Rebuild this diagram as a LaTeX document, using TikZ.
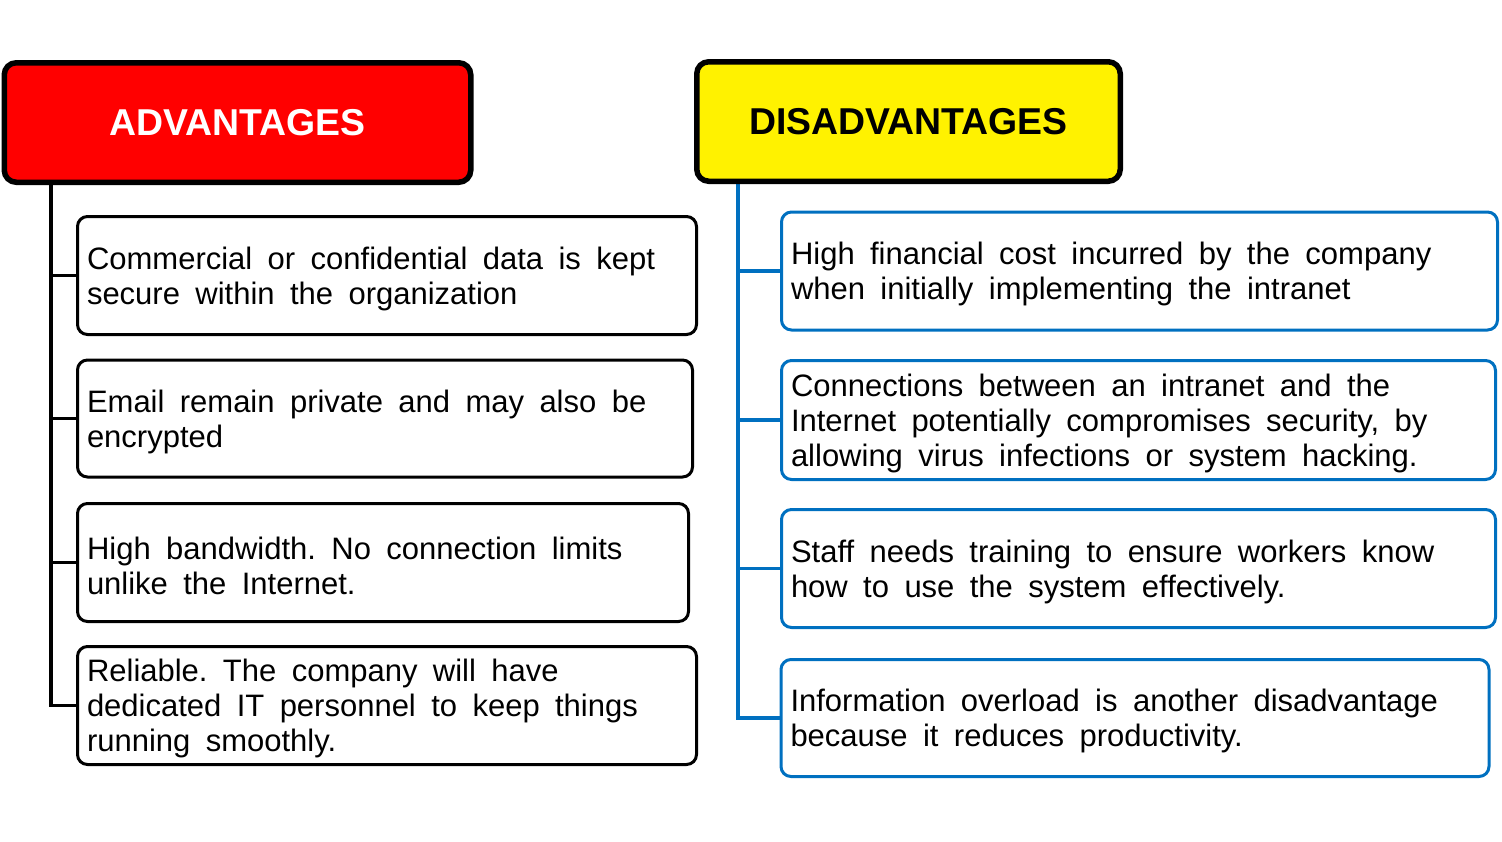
\documentclass[tikz,border=0pt]{standalone}
\usepackage{fontspec}
\usetikzlibrary{backgrounds}
\setmainfont{Liberation Sans}
\newfontfamily\boxfont{Liberation Sans}
\definecolor{myblue}{HTML}{0070C0}
\frenchspacing
\newcommand\topstrutx{\spaceskip=15.4pt\relax\xspaceskip=15.4pt\relax\vrule height 28.5pt depth 0pt width 0pt\relax}
\begin{document}
\begin{tikzpicture}[x=1pt,y=-1pt,
  titlebox/.style={draw=black, line width=5.5pt, rounded corners=12pt, inner sep=0pt,
    minimum height=119.5pt, font=\fontsize{37.4}{40}\selectfont\bfseries},
  advbox/.style={draw=black, line width=3pt, rounded corners=10pt, fill=white,
    inner xsep=9.5pt, inner ysep=0pt, align=left,
    font=\boxfont\fontsize{31}{35}\selectfont},
  disbox/.style={advbox, draw=myblue},
  trunkA/.style={draw=black, line width=3.5pt},
  trunkB/.style={draw=myblue, line width=3.5pt}]
\useasboundingbox (0,0) rectangle (1502,841);

% title boxes
\node[titlebox, fill=red, text=white, minimum width=466.5pt] (adv) at (237.5,122.5) {ADVANTAGES};
\node[titlebox, fill=yellow, text=black, minimum width=423.5pt] (dis) at (908.5,121.5) {DISADVANTAGES};

% trunk coordinates
\coordinate (ta) at (51,0);
\coordinate (tb) at (738,0);

% advantage boxes
\node[advbox, text width=600pt, minimum height=118pt] (a1) at (387,275.5)
  {\topstrutx Commercial or confidential data is kept\\secure within the organization};
\node[advbox, text width=596pt, minimum height=117pt] (a2) at (385,418.5)
  {\topstrutx Email remain private and may also be\\encrypted};
\node[advbox, text width=592pt, minimum height=118pt] (a3) at (383,562.5)
  {\topstrutx High bandwidth. No connection limits\\unlike the Internet.};
\node[advbox, text width=600pt, minimum height=118pt] (a4) at (387,705.5)
  {\topstrutx Reliable. The company will have\\dedicated IT personnel to keep things\\running smoothly.};

% disadvantage boxes
\node[disbox, text width=697pt, minimum height=118pt] (d1) at (1139.5,271)
  {\topstrutx High financial cost incurred by the company\\when initially implementing the intranet};
\node[disbox, text width=695pt, minimum height=119pt] (d2) at (1138.5,420)
  {\topstrutx Connections between an intranet and the\\Internet potentially compromises security, by\\allowing virus infections or system hacking.};
\node[disbox, text width=695pt, minimum height=118pt] (d3) at (1138.5,568.5)
  {\topstrutx Staff needs training to ensure workers know\\how to use the system effectively.};
\node[disbox, text width=689pt, minimum height=117pt] (d4) at (1135,718)
  {\topstrutx Information overload is another disadvantage\\because it reduces productivity.};

% connectors (drawn behind)
\begin{scope}[on background layer]
\draw[trunkA] (adv.south -| ta) |- (a4.west);
\draw[trunkA] (a1.west -| ta) -- (a1.west);
\draw[trunkA] (a2.west -| ta) -- (a2.west);
\draw[trunkA] (a3.west -| ta) -- (a3.west);
\draw[trunkB] (dis.south -| tb) |- (d4.west);
\draw[trunkB] (d1.west -| tb) -- (d1.west);
\draw[trunkB] (d2.west -| tb) -- (d2.west);
\draw[trunkB] (d3.west -| tb) -- (d3.west);
\end{scope}
\end{tikzpicture}
\end{document}
